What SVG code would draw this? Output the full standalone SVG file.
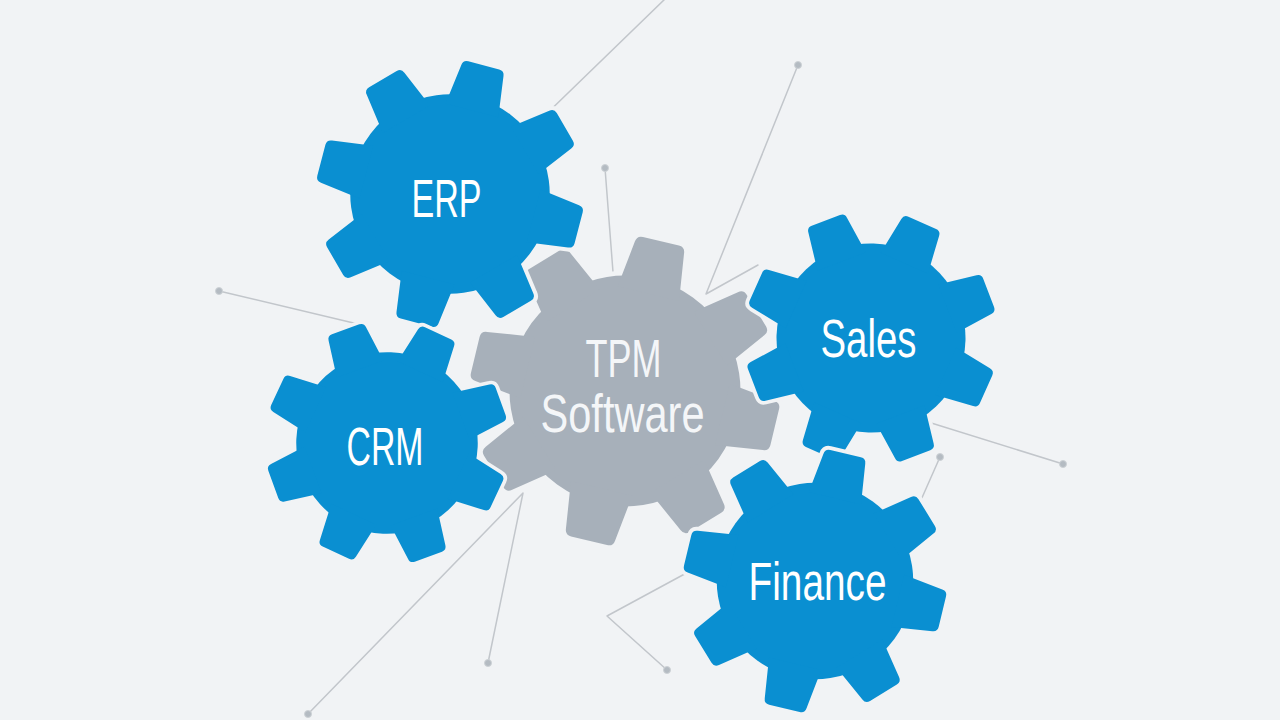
<svg xmlns="http://www.w3.org/2000/svg" xmlns:xlink="http://www.w3.org/1999/xlink" width="1280" height="720" viewBox="0 0 1280 720">
  <style>
    .bg { fill: #f1f3f5; }
    .halo { fill: #f1f3f5; stroke: #f1f3f5; stroke-width: 6; stroke-linejoin: round; }
    .blue { fill: #0a8fd1; }
    .gray { fill: #a7b0ba; }
    .conn { fill: none; stroke: #c2c6cb; stroke-width: 1.5; stroke-linecap: round; stroke-linejoin: round; }
    .dot { fill: #b4bbc2; stroke: #cdd2d6; stroke-width: 1; }
    .label { font-family: "Liberation Sans", Arial, sans-serif; font-size: 53px; fill: #ffffff; text-anchor: middle; }
    .label-gray { fill: #f4f6f8; }
  </style>
  <defs>
    <path id="tooth" d="M65,-20.5 L96,-16.4 Q100,-16 100,-12 L100,12 Q100,16 96,16.4 L65,20.5 Z"/>
    <g id="gear">
      <circle r="75"/>
      <use href="#tooth"/>
      <use href="#tooth" transform="rotate(45)"/>
      <use href="#tooth" transform="rotate(90)"/>
      <use href="#tooth" transform="rotate(135)"/>
      <use href="#tooth" transform="rotate(180)"/>
      <use href="#tooth" transform="rotate(225)"/>
      <use href="#tooth" transform="rotate(270)"/>
      <use href="#tooth" transform="rotate(315)"/>
    </g>
  </defs>

  <rect class="bg" x="0" y="0" width="1280" height="720"/>

  <g id="connectors">
    <polyline class="conn" points="666,-2 535,125"/>
    <polyline class="conn" points="605,168 613,272"/>
    <polyline class="conn" points="798,65 706,294 758,265"/>
    <polyline class="conn" points="219,291 362,325"/>
    <polyline class="conn" points="308,714 523,493 488,663"/>
    <polyline class="conn" points="692,570 607,616 667,670"/>
    <polyline class="conn" points="912,417 1063,464"/>
    <polyline class="conn" points="921,500 940,457"/>
    <circle class="dot" cx="605" cy="168" r="3.5"/>
    <circle class="dot" cx="798" cy="65" r="3.5"/>
    <circle class="dot" cx="219" cy="291" r="3.5"/>
    <circle class="dot" cx="308" cy="714" r="3.5"/>
    <circle class="dot" cx="488" cy="663" r="3.5"/>
    <circle class="dot" cx="667" cy="670" r="3.5"/>
    <circle class="dot" cx="1063" cy="464" r="3.5"/>
    <circle class="dot" cx="940" cy="457" r="3.5"/>
  </g>

  <g id="gear-tpm">
    <use href="#gear" class="halo" transform="translate(625,391) rotate(13.5) scale(1.54)"/>
    <use href="#gear" class="gray" transform="translate(625,391) rotate(13.5) scale(1.54)"/>
    <text class="label label-gray" x="623.5" y="377" textLength="76" lengthAdjust="spacingAndGlyphs">TPM</text>
    <text class="label label-gray" x="622.5" y="432" textLength="164" lengthAdjust="spacingAndGlyphs">Software</text>
  </g>

  <g id="gear-erp">
    <use href="#gear" class="halo" transform="translate(450,194) rotate(14.7) scale(1.33)"/>
    <use href="#gear" class="blue" transform="translate(450,194) rotate(14.7) scale(1.33)"/>
    <text class="label" x="446.5" y="217" textLength="70" lengthAdjust="spacingAndGlyphs">ERP</text>
  </g>

  <g id="gear-crm">
    <use href="#gear" class="halo" transform="translate(387,443) rotate(25) scale(1.21)"/>
    <use href="#gear" class="blue" transform="translate(387,443) rotate(25) scale(1.21)"/>
    <text class="label" x="385" y="465" textLength="77" lengthAdjust="spacingAndGlyphs">CRM</text>
  </g>

  <g id="gear-sales">
    <use href="#gear" class="halo" transform="translate(871,338) rotate(24) scale(1.26)"/>
    <use href="#gear" class="blue" transform="translate(871,338) rotate(24) scale(1.26)"/>
    <text class="label" x="868.5" y="357" textLength="96" lengthAdjust="spacingAndGlyphs">Sales</text>
  </g>

  <g id="gear-finance">
    <use href="#gear" class="halo" transform="translate(815,581) rotate(13.5) scale(1.31)"/>
    <use href="#gear" class="blue" transform="translate(815,581) rotate(13.5) scale(1.31)"/>
    <text class="label" x="817.5" y="600" textLength="138" lengthAdjust="spacingAndGlyphs">Finance</text>
  </g>
</svg>
